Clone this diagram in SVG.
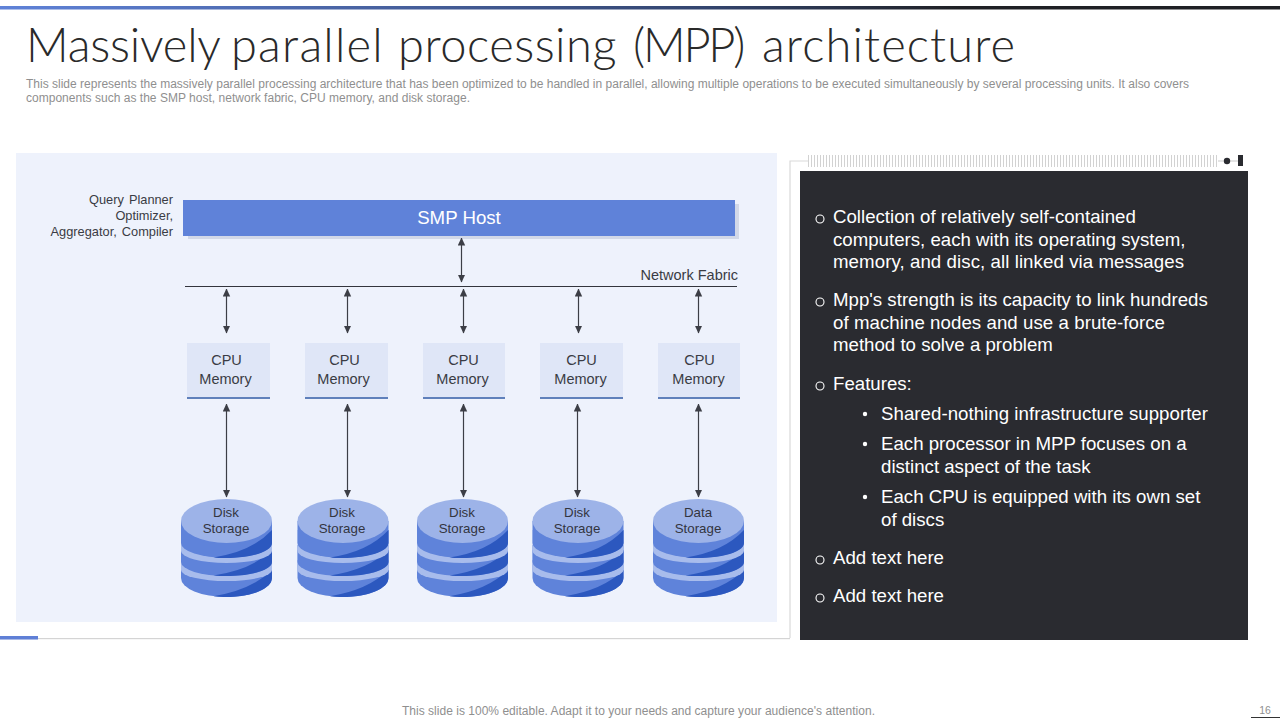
<svg xmlns="http://www.w3.org/2000/svg" width="1280" height="720" viewBox="0 0 1280 720">
<style>
text{font-family:"Liberation Sans",Arial,sans-serif}
.lbl{font-size:14.500px;fill:#3a3c44;text-anchor:middle}
.disk{font-size:13.300px;fill:#33353f;text-anchor:middle}
.side{font-size:12.800px;fill:#3a3c44;text-anchor:end;word-spacing:1.500px}
.w{font-size:18.670px;fill:#fff}
.sub{font-size:12px;fill:#8f8f8f}
.conn{stroke:#3c3e46;stroke-width:1.200;fill:none;marker-start:url(#ah);marker-end:url(#ah)}
.cpu{fill:#dfe6f7}
.cpul{fill:#5f80bb}
</style>
<defs>
<linearGradient id="top" x1="0" x2="1" y1="0" y2="0"><stop offset="0" stop-color="#5f82d8"/><stop offset=".55" stop-color="#33456f"/><stop offset=".75" stop-color="#1f2024"/><stop offset="1" stop-color="#1f2024"/></linearGradient>
<marker id="ah" viewBox="0 0 8 8" refX="7.500" refY="4" markerWidth="8" markerHeight="8" markerUnits="userSpaceOnUse" orient="auto-start-reverse"><path d="M0,0.300L8,4L0,7.700Z" fill="#3c3e46"/></marker>
<g id="cyl">
<path d="M-45.500,560V578A45.500,19 0 0 0 45.500,578V560Z" fill="#5f83da"/>
<path d="M-13,596.200A45.500,19 0 0 0 45.500,578V570Q25,590 -13,596.200Z" fill="#2c58bf"/>
<path d="M-45.500,550V570A45.500,11 0 0 0 45.500,570V550Z" fill="#a8bcec"/>
<path d="M-45.500,545V562A45.500,14 0 0 0 45.500,562V545Z" fill="#5f83da"/>
<path d="M-13,575.400A45.500,14 0 0 0 45.500,562V550Q25,570 -13,575.400Z" fill="#2c58bf"/>
<path d="M-45.500,530V551A45.500,12 0 0 0 45.500,551V530Z" fill="#a8bcec"/>
<path d="M-45.500,521V543A45.500,15 0 0 0 45.500,543V521Z" fill="#5f83da"/>
<path d="M-13,557.400A45.500,15 0 0 0 45.500,543V530Q25,552 -13,557.400Z" fill="#2c58bf"/>
<ellipse cx="0" cy="521" rx="45.500" ry="22" fill="#9db3e8"/>
</g>
</defs>
<rect width="1280" height="720" fill="#fff"/>
<rect x="0" y="6" width="1280" height="3.500" fill="url(#top)"/>
<g id="header">
<text y="62" font-size="47" fill="#2a2a2a" style="font-family:Lato,'Liberation Sans',sans-serif;font-weight:300"><tspan x="26" letter-spacing="-0.200">Massively</tspan> <tspan x="231" letter-spacing="1.200">parallel</tspan> <tspan x="398" letter-spacing="0.500">processing</tspan> <tspan x="633" letter-spacing="-2.200">(MPP)</tspan> <tspan x="762" letter-spacing="1.100">architecture</tspan></text>
<text x="26" y="88" class="sub" textLength="1163">This slide represents the massively parallel processing architecture that has been optimized to be handled in parallel, allowing multiple operations to be executed simultaneously by several processing units. It also covers</text>
<text x="26" y="102" class="sub" textLength="444">components such as the SMP host, network fabric, CPU memory, and disk storage.</text>
</g>
<g id="frame">
<rect x="0" y="638" width="790" height="1.200" fill="#d4d4d4"/>
<rect x="0" y="636" width="38" height="3.500" fill="#5f7fd6"/>
<path d="M790,638V161H808" fill="none" stroke="#d9d9d9" stroke-width="1.200"/>
<path d="M808,161H1218" stroke="#d2d2d2" stroke-width="12" stroke-dasharray="1 2" fill="none"/>
<path d="M1218,161H1238" stroke="#c9c9c9" stroke-width="1"/>
<circle cx="1227" cy="161" r="3.200" fill="#2a2b30"/>
<rect x="1238" y="155" width="5" height="11" fill="#2a2b30"/>
</g>
<rect id="diagram-bg" x="16" y="153" width="761" height="469" fill="#eef2fc"/>
<g id="smp-host">
<rect x="188" y="204" width="551" height="35" fill="#d2d8e8"/>
<rect x="183" y="200" width="552" height="36" fill="#5f82d9"/>
<text x="459" y="224" font-size="18.670" fill="#fff" text-anchor="middle">SMP Host</text>
</g>
<g id="planner">
<text x="173" y="204" class="side">Query Planner</text>
<text x="173" y="220" class="side">Optimizer,</text>
<text x="173" y="236" class="side">Aggregator, Compiler</text>
</g>
<g id="connectors">
<path d="M185,286.500H737" stroke="#33353d" stroke-width="1.200" fill="none"/>
<path class="conn" d="M461.500,238V282"/>
<path class="conn" d="M226.500,289V333"/>
<path class="conn" d="M347.500,289V333"/>
<path class="conn" d="M463.500,289V333"/>
<path class="conn" d="M578.500,289V333"/>
<path class="conn" d="M698.500,289V333"/>
<path class="conn" d="M226.500,404V497"/>
<path class="conn" d="M347.500,404V497"/>
<path class="conn" d="M463.500,404V497"/>
<path class="conn" d="M577.500,404V497"/>
<path class="conn" d="M698.500,404V497"/>
</g>
<text id="network-fabric" x="738" y="280" font-size="14.500" fill="#3a3c44" text-anchor="end">Network Fabric</text>
<g id="cpu1"><rect class="cpu" x="187" y="343" width="83" height="54"/><rect class="cpul" x="187" y="397" width="83" height="2"/><text class="lbl" x="226.500" y="365">CPU</text><text class="lbl" x="225.500" y="384">Memory</text></g>
<g id="cpu2"><rect class="cpu" x="305" y="343" width="83" height="54"/><rect class="cpul" x="305" y="397" width="83" height="2"/><text class="lbl" x="344.500" y="365">CPU</text><text class="lbl" x="343.500" y="384">Memory</text></g>
<g id="cpu3"><rect class="cpu" x="423" y="343" width="82" height="54"/><rect class="cpul" x="423" y="397" width="82" height="2"/><text class="lbl" x="463.500" y="365">CPU</text><text class="lbl" x="462.500" y="384">Memory</text></g>
<g id="cpu4"><rect class="cpu" x="540" y="343" width="83" height="54"/><rect class="cpul" x="540" y="397" width="83" height="2"/><text class="lbl" x="581.500" y="365">CPU</text><text class="lbl" x="580.500" y="384">Memory</text></g>
<g id="cpu5"><rect class="cpu" x="658" y="343" width="82" height="54"/><rect class="cpul" x="658" y="397" width="82" height="2"/><text class="lbl" x="699.500" y="365">CPU</text><text class="lbl" x="698.500" y="384">Memory</text></g>
<g id="disk1"><use href="#cyl" x="226.500"/><text class="disk" x="226" y="517">Disk</text><text class="disk" x="226" y="533">Storage</text></g>
<g id="disk2"><use href="#cyl" x="343"/><text class="disk" x="342" y="517">Disk</text><text class="disk" x="342" y="533">Storage</text></g>
<g id="disk3"><use href="#cyl" x="462.500"/><text class="disk" x="462" y="517">Disk</text><text class="disk" x="462" y="533">Storage</text></g>
<g id="disk4"><use href="#cyl" x="578"/><text class="disk" x="577" y="517">Disk</text><text class="disk" x="577" y="533">Storage</text></g>
<g id="disk5"><use href="#cyl" x="698.500"/><text class="disk" x="698" y="517">Data</text><text class="disk" x="698" y="533">Storage</text></g>
<g id="text-panel">
<rect x="800" y="171" width="448" height="469" fill="#2a2b30"/>
<g fill="none" stroke="#fff" stroke-width="1.100">
<circle cx="820" cy="219" r="4"/><circle cx="820" cy="302" r="4"/><circle cx="820" cy="386" r="4"/><circle cx="820" cy="560" r="4"/><circle cx="820" cy="598" r="4"/>
</g>
<g fill="#fff"><circle cx="865" cy="414" r="2.200"/><circle cx="865" cy="444" r="2.200"/><circle cx="865" cy="497" r="2.200"/></g>
<text class="w" x="833" y="223">Collection of relatively self-contained</text>
<text class="w" x="833" y="246">computers, each with its operating system,</text>
<text class="w" x="833" y="268" textLength="351">memory, and disc, all linked via messages</text>
<text class="w" x="833" y="306">Mpp's strength is its capacity to link hundreds</text>
<text class="w" x="833" y="329" textLength="332">of machine nodes and use a brute-force</text>
<text class="w" x="833" y="351">method to solve a problem</text>
<text class="w" x="833" y="390">Features:</text>
<text class="w" x="881" y="420" textLength="327">Shared-nothing infrastructure supporter</text>
<text class="w" x="881" y="450">Each processor in MPP focuses on a</text>
<text class="w" x="881" y="473">distinct aspect of the task</text>
<text class="w" x="881" y="503">Each CPU is equipped with its own set</text>
<text class="w" x="881" y="526">of discs</text>
<text class="w" x="833" y="563.500">Add text here</text>
<text class="w" x="833" y="601.500">Add text here</text>
</g>
<g id="footer">
<text x="402" y="715" font-size="12" fill="#8f8f8f" textLength="473">This slide is 100% editable. Adapt it to your needs and capture your audience's attention.</text>
<text x="1265" y="714" font-size="10.500" fill="#8f8f8f" text-anchor="middle">16</text>
<rect x="1251" y="717" width="29" height="1" fill="#333"/>
</g>
</svg>
